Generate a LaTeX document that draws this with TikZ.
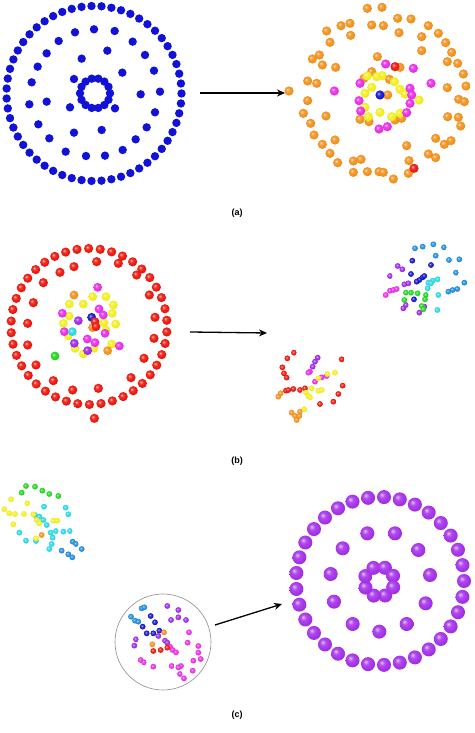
\documentclass[tikz,border=0pt]{standalone}
\usepackage{fontspec}
\setmainfont{Liberation Sans}
\usetikzlibrary{arrows.meta}
\makeatletter
\pgfdeclareradialshading[tikz@ball]{sball}{\pgfqpoint{-9bp}{9bp}}{color(0bp)=(tikz@ball!30!white); color(10bp)=(tikz@ball!88!white); color(22bp)=(tikz@ball); color(32bp)=(tikz@ball!90!black); color(50bp)=(tikz@ball!80!black)}
\makeatother
\definecolor{cblue}{RGB}{18,18,215}
\definecolor{cora}{RGB}{242,145,28}
\definecolor{cred}{RGB}{235,22,12}
\definecolor{cmag}{RGB}{232,45,232}
\definecolor{cyel}{RGB}{242,238,30}
\definecolor{cpur}{RGB}{160,40,230}
\definecolor{ccyan}{RGB}{40,215,230}
\definecolor{cazure}{RGB}{30,140,220}
\definecolor{cgreen}{RGB}{30,215,30}
\definecolor{cdblue}{RGB}{20,20,205}
\definecolor{cring}{RGB}{165,50,232}
% color, x-offset, y-offset (image px), radius, list of 3x-zoom coordinates
\newcommand\balls[5]{\foreach \p/\q in {#5} {\shade[ball color=#1, shading=sball] ({#2+\p/3},{733-#3-\q/3}) circle[radius=#4];}}
\newcommand\ringballs[6]{\foreach \k in {1,...,#5} {\shade[ball color=#1, shading=sball] ({#2+#4*cos(360/#5*\k+#6)},{733-#3-#4*sin(360/#5*\k+#6)}) circle[radius=7];}}
\tikzset{
  flowarrow/.style={line width=1.3pt, -{Stealth[length=8pt,width=7pt]}},
  panellabel/.style={font=\bfseries\fontsize{9}{10}\selectfont, inner sep=0pt},
  lens/.style={draw=black!45, line width=0.6pt}
}
\begin{document}
\begin{tikzpicture}[x=1pt,y=1pt]
\useasboundingbox (0,0) rectangle (474,733);
\fill[white] (0,0) rectangle (474,733);

% ---------- (a) left: blue rings ----------
\foreach \k in {1,...,55} {\fill[cblue] ({94+87.5*cos(360/55*\k)},{733-93.5-87.5*sin(360/55*\k)}) circle[radius=4.2];}
\foreach \k in {1,...,14} {\fill[cblue] ({95+15*cos(360/14*\k)},{733-93.3-15*sin(360/14*\k)}) circle[radius=4.2];}
\foreach \p/\q in {225/97,282/88,344/93,398/125,435/165,462/212,480/275,465/337,440/382,407/418,368/450,315/467,258/468,197/455,148/415,115/373,88/313,95/247,113/200,140/160,176/123,245/176,322/152,367/218,422/283,345/325,305/390,222/398,140/305,210/322,222/237}
  {\fill[cblue] ({\p/3},{733-\q/3}) circle[radius=4.2];}

% ---------- (a) right ----------
\balls{cora}{270}{0}{4.6}{292/25,336/22,383/55,423/57,475/77,505/100,527/128,545/157,532/185,563/190,580/222,588/258,566/298,583/305,572/378,565/352,533/350,532/263,455/110,455/152,387/98,340/77,305/75,240/70,213/77,242/106,170/93,180/127,148/165,127/177,157/195,197/202,113/243,140/250,57/273,113/302,100/340,168/348,122/370,132/405,195/420,157/433,180/460,203/488,250/483,273/478,250/517,292/515,327/515,340/517,370/537,415/520,417/482,410/437,475/462,497/473,497/415,523/433,543/422,322/170,305/215,282/235,358/238,270/358,297/365,390/202,375/360,395/355}
\balls{cyel}{270}{0}{4.6}{292/228,337/227,373/245,305/262,390/268,405/282,447/300,285/280,285/322,330/337,295/350,365/350,390/340,320/230}
\balls{cmag}{270}{0}{4.6}{347/192,430/205,483/250,193/273,270/250,420/265,425/285,420/310,410/338,267/302,272/333,327/387,352/380}
\balls{cora}{270}{0}{4.6}{353/285}
\balls{cdblue}{270}{0}{4.6}{330/285}
\balls{cred}{270}{0}{4.6}{375/200,432/505}

\coordinate (aS) at (200,640);
\coordinate (aE) at (285,640);
\draw[flowarrow] (aS) -- (aE);
\node[panellabel] (la) at (237,520) {(a)};

% ---------- (b) left ----------
\foreach \k in {1,...,42} {\shade[ball color=cred, shading=sball] ({89+78*cos(360/42*\k+4)},{733-326.5-78*sin(360/42*\k+4)}) circle[radius=4.6];}
\balls{cred}{0}{230}{4.6}{290/95,355/100,222/110,180/127,130/158,410/135,448/195,465/262,462/325,432/385,393/443,295/475,218/480,160/452,108/405,83/345,83/280,100/218,283/565}
\balls{cyel}{50}{280}{4.4}{128/50,168/50,58/72,100/72,190/75,187/100,57/108,40/130,162/128,197/132,55/168,168/150,185/192,75/205,100/222,132/205}
\balls{cmag}{50}{280}{4.4}{143/22,147/87,37/100,160/105,43/155,112/177,135/188,208/198,165/160}
\balls{cpur}{50}{280}{4.4}{85/122,73/190,113/212}
\balls{cora}{50}{280}{4.4}{72/45,173/212,128/143}
\balls{cdblue}{50}{280}{4.4}{125/112}
\balls{cred}{50}{280}{4.4}{135/125,138/140}
\balls{ccyan}{50}{280}{4.4}{67/155}
\balls{cgreen}{50}{280}{4.4}{15/228}

\coordinate (bS) at (190,401);
\coordinate (bE) at (267,400);
\draw[flowarrow] (bS) -- (bE);

% ---------- (b) right upper cluster ----------
\balls{cazure}{370}{240}{2.9}{135/25,158/20,190/13,222/22,197/47,237/60,268/58,258/98,283/128,262/147,248/150,235/155}
\balls{cpur}{370}{240}{2.9}{83/78,97/88,60/108,103/133,115/130,100/205,108/195,148/218,163/200}
\balls{cmag}{370}{240}{2.9}{47/165,60/152,70/150,80/147}
\balls{ccyan}{370}{240}{2.9}{175/128,188/122,203/118,173/145,205/165,202/210,183/130}
\balls{cgreen}{370}{240}{2.9}{108/158,123/158,143/160,168/165,103/180,165/178,155/198,160/208}
\balls{cdblue}{370}{240}{2.9}{127/62,183/75,123/102,148/120,158/112,163/108,140/125,132/178}

% ---------- (b) right lower cluster ----------
\balls{cred}{270}{340}{2.9}{72/38,52/55,37/82,42/100,50/113,215/58,218/137,205/162,190/185,150/192,48/152,55/150,70/147,90/150,105/145}
\balls{cpur}{270}{340}{2.9}{143/53,135/65,128/80}
\balls{cmag}{270}{340}{2.9}{120/95,115/98,135/125,155/112,170/108}
\balls{cyel}{270}{340}{2.9}{195/98,172/102,145/115,125/145,108/158,115/168,120/172,145/152,155/150,103/208}
\balls{cora}{270}{340}{2.9}{25/170,32/160,65/218,75/228,90/215,80/240,88/228}
\node[panellabel] (lb) at (237,272) {(b)};

% ---------- (c) top-left cluster ----------
\balls{cgreen}{0}{470}{2.9}{78/48,105/50,127/62,148/72,175/78,65/68}
\balls{ccyan}{0}{470}{2.9}{132/110,197/113,205/133,105/135,118/140,130/150,140/165,58/188,78/212,108/213,152/188,168/183,190/185,210/183,158/203,155/222,148/237}
\balls{cyel}{0}{470}{2.9}{33/88,82/100,13/118,28/130,45/132,72/132,100/133,110/150,118/160,160/152,172/152,40/163,108/205}
\balls{cora}{0}{470}{2.9}{125/195}
\balls{cazure}{0}{470}{2.9}{218/215,228/222,245/237,185/242,205/253,217/262}

% ---------- (c) lens cluster ----------
\coordinate (lensC) at (163,91);
\draw[lens] (lensC) circle[radius=48];
\balls{cazure}{110}{590}{2.9}{95/55,103/52,63/80,75/92,85/95}
\balls{cdblue}{110}{590}{2.9}{122/78,135/97,98/110,110/130,130/130,148/122}
\balls{cpur}{110}{590}{2.9}{172/48,205/60,183/90,205/82,228/90,78/148,73/167,145/138,165/152,172/158}
\balls{cmag}{110}{590}{2.9}{237/127,233/158,265/168,265/188,272/207,250/212,248/242,213/228,205/232,210/252,222/265,185/228,130/230,92/210,102/217,180/170,188/180,198/187}
\balls{cora}{110}{590}{2.9}{162/127,127/163}
\balls{cred}{110}{590}{2.9}{130/183,152/180,172/173}

\coordinate (cS) at (215,108);
\coordinate (cE) at (282,129);
\draw[flowarrow] (cS) -- (cE);

% ---------- (c) purple rings ----------
\ringballs{cring}{380}{581}{84}{33}{0}
\balls{cring}{260}{480}{7}{322/160,405/160,475/210,510/285,497/370,440/432,358/455,278/432,222/365,212/282,248/205}
\ringballs{cring}{379.3}{581.7}{15}{8}{22}
\node[panellabel] (lc) at (237,18) {(c)};
\end{tikzpicture}
\end{document}
